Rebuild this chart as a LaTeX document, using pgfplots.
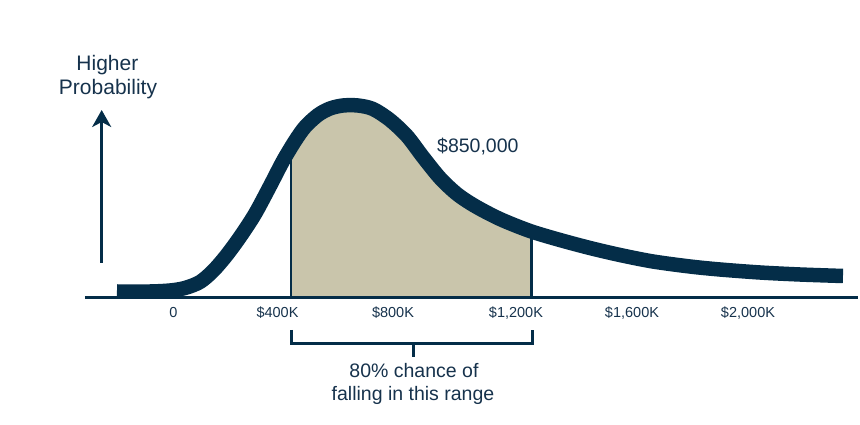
\documentclass[border=0pt]{standalone}
\usepackage{fontspec}
\setmainfont{Liberation Sans}
\usepackage{pgfplots}
\pgfplotsset{compat=1.18}
\usepgfplotslibrary{fillbetween}
\usetikzlibrary{arrows.meta}
\definecolor{navy}{RGB}{4,45,72}
\definecolor{txt}{RGB}{22,50,76}
\definecolor{beige}{RGB}{201,197,171}
\newcommand\bigf{\fontsize{19.5bp}{23bp}\selectfont}
\newcommand\ylabfont{\fontsize{21bp}{25bp}\selectfont}
\pgfplotstableread{
x h
-196.7 6.5
-81.8 6.5
-12.2 7.5
40.0 10
92.3 16
137.5 27
182.8 42
231.5 61
283.7 84
336.0 112
381.2 137
423.0 157
457.8 171
503.0 183
544.8 189.5
590.1 192.5
642.3 192.5
694.5 189
753.7 178
812.9 162
868.6 141
927.8 120
986.9 104
1049.6 92
1136.6 79
1241.1 67
1345.5 58
1450.0 50
1554.4 43
1669.3 36.5
1798.1 31.5
1902.5 28.5
2041.8 25.5
2181.0 23.5
2330.7 22
}\curvedata
\begin{document}
\begin{tikzpicture}
\begin{axis}[
  scale only axis, width=860bp, height=425bp,
  xmin=-604, xmax=2390, ymin=-127, ymax=298,
  axis x line=middle, axis y line=none,
  x axis line style={draw=none},
  hide obscured x ticks=false,
  xtick={0,362.1,764.1,1192.3,1596.2,2000},
  xticklabels={0,{\$400K},{\$800K},{\$1,200K},{\$1,600K},{\$2,000K}},
  major tick length=0pt,
  xticklabel style={anchor=base, yshift=-20bp, inner sep=0pt, text=txt,
    font=\fontsize{14.5bp}{17bp}\selectfont},
  clip=false,
]
\addplot[name path=curve, draw=none, smooth, forget plot] table[x=x, y=h] {\curvedata};
\path[name path=base] (axis cs:-604,0) -- (axis cs:2390,0);
\addplot[beige, draw=none] fill between[of=curve and base, soft clip={domain=409.1:1246.3}];
\draw[navy, line width=2.5bp] (axis cs:409.1,0) -- (axis cs:409.1,150);
\draw[navy, line width=2.5bp] (axis cs:1246.3,0) -- (axis cs:1246.3,67);
\addplot[navy, line width=14.5bp, smooth, line join=round] table[x=x, y=h] {\curvedata};
\draw[navy, line width=3bp] (axis cs:-308.1,0) -- (axis cs:2382.9,0);
% arrow and label
\draw[navy, line width=3bp, -{Stealth[length=17bp,width=19bp,inset=5bp]}]
  (axis cs:-250,35) -- (axis cs:-250,188);
\node[anchor=base, inner sep=0pt, text=txt, font=\ylabfont] at (axis cs:-230,227.3) {Higher};
\node[anchor=base, inner sep=0pt, text=txt, font=\ylabfont] at (axis cs:-228,203) {Probability};
\node[anchor=base west, inner sep=0pt, text=txt, font=\bigf] at (axis cs:917.3,145.7) {\$850,000};
% bracket
\draw[navy, line width=3bp] (axis cs:411.5,-32) -- (axis cs:411.5,-46) -- (axis cs:1250.5,-46) -- (axis cs:1250.5,-32);
\draw[navy, line width=3bp] (axis cs:834.8,-46) -- (axis cs:834.8,-58.7);
\node[anchor=base, inner sep=0pt, text=txt, font=\bigf] at (axis cs:837.2,-79.3) {80\% chance of};
\node[anchor=base, inner sep=0pt, text=txt, font=\bigf] at (axis cs:833.8,-102) {falling in this range};
\path (axis cs:-604,-127) rectangle (axis cs:2390,298);
\end{axis}
\end{tikzpicture}
\end{document}
